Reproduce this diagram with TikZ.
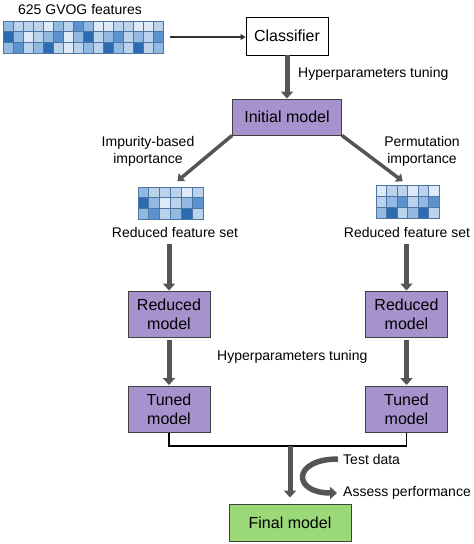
\documentclass[tikz,border=0pt]{standalone}
\usepackage{fontspec}
\setmainfont{Liberation Sans}
\usetikzlibrary{arrows.meta}

\definecolor{b1}{RGB}{222,234,247}
\definecolor{b2}{RGB}{186,210,236}
\definecolor{b3}{RGB}{145,185,225}
\definecolor{b4}{RGB}{92,147,207}
\definecolor{b5}{RGB}{44,106,178}
\definecolor{gridblue}{RGB}{78,118,163}
\definecolor{purplefill}{RGB}{167,146,205}
\definecolor{greenfill}{RGB}{154,216,120}
\definecolor{arrowgray}{RGB}{85,85,85}

% one row of a heat map: x, y, cell width, cell height, shades
\newcommand\heatrow[5]{\foreach \s [count=\i from 0] in {#5} {\draw[cell, fill=\s] ({#1+\i*#3},#2) rectangle ++(#3,#4);}}

\begin{document}
\begin{tikzpicture}[x=1pt, y=-1pt,
      cell/.style ={draw=gridblue, line width=0.8pt},
      heat/.style ={inner sep=0pt, minimum width=#1},
      model/.style ={draw=black!75, fill=purplefill, line width=0.9pt, align=center,
                     font=\fontsize{16}{19}\selectfont, minimum width=82, minimum height=46},
      note/.style ={inner sep=1pt, align=center, font=\fontsize{14}{17}\selectfont},
      bigarrow/.style ={draw=arrowgray, line width=5pt, -{Triangle[length=7pt,width=12pt]}},
      slantarrow/.style ={draw=arrowgray, line width=3.5pt, -{Triangle[length=6pt,width=10pt]}}]
   \useasboundingbox (0,0) rectangle (474,544);

   % feature matrix
   \node[note] (G) at (80,10) {625 GVOG features};
   \node[heat=160, minimum height=32] (H) at (83,37) {};
   \heatrow{3}{21}{10}{10.7}{b3,b2,b2,b2,b1,b3,b2,b4,b3,b1,b1,b2,b2,b1,b1,b2}
   \heatrow{3}{31.7}{10}{10.7}{b5,b3,b1,b2,b3,b4,b1,b3,b5,b2,b3,b4,b2,b3,b2,b4}
   \heatrow{3}{42.4}{10}{10.7}{b3,b4,b2,b3,b5,b2,b1,b2,b3,b2,b5,b3,b2,b5,b2,b3}

   \node[draw, line width=0.9pt, minimum width=82, minimum height=38,
         font=\fontsize{16}{19}\selectfont] (C) at (287,36) {Classifier};
   \node[model, minimum width=109, minimum height=36] (I) at (287,117) {Initial model};
   \node[note, anchor=west] (P0) at (297,74) {Hyperparameters tuning};

   \node[note] (L1) at (148,151) {Impurity-based\\importance};
   \node[note] (L2) at (422,151) {Permutation\\importance};

   % reduced feature sets
   \node[heat=65, minimum height=32] (HL) at (170.5,203) {};
   \heatrow{138}{187}{10.83}{10.7}{b3,b2,b2,b2,b1,b2}
   \heatrow{138}{197.7}{10.83}{10.7}{b5,b3,b1,b2,b3,b4}
   \heatrow{138}{208.4}{10.83}{10.7}{b3,b4,b2,b3,b5,b2}
   \node[heat=63, minimum height=33] (HR) at (407.5,201.5) {};
   \heatrow{376}{185}{10.5}{11}{b1,b2,b2,b1,b2,b1}
   \heatrow{376}{196}{10.5}{11}{b2,b3,b4,b2,b3,b4}
   \heatrow{376}{207}{10.5}{11}{b3,b5,b2,b3,b5,b2}

   \node[note] (FL) at (175,232) {Reduced feature set};
   \node[note] (FR) at (407,232) {Reduced feature set};

   \node[model] (R1) at (169,314) {Reduced\\model};
   \node[model] (R2) at (406.5,314) {Reduced\\model};
   \node[model] (T1) at (169,409.5) {Tuned\\model};
   \node[model] (T2) at (406.5,409.5) {Tuned\\model};
   \node[note, anchor=west] (P) at (216,357) {Hyperparameters tuning};

   \node[draw=black!75, fill=greenfill, line width=0.9pt, minimum width=122, minimum height=37,
         font=\fontsize{16}{19}\selectfont] (F) at (290,522.5) {Final model};
   \node[note, anchor=west] (TD) at (342,459) {Test data};
   \node[note, anchor=west] (AP) at (342,493) {Assess performance};
   \coordinate (B) at (290,446);

   \draw[line width=2pt, draw=black!80, -{Triangle[length=5pt,width=6pt]}, shorten <=7pt]
        (H.east) -- (H.east -| C.west);
   \draw[bigarrow] (C) -- (I);
   \draw[slantarrow, shorten >=9pt] (I.south west) -- (HL.north);
   \draw[slantarrow, shorten >=6pt] (I.south east) -- (HR.north);
   \draw[bigarrow, shorten <=6pt] (R1.north |- FL.south) -- (R1);
   \draw[bigarrow, shorten <=6pt] (R2.north |- FR.south) -- (R2);
   \draw[bigarrow, shorten <=3pt, shorten >=1pt] (R1) -- (T1);
   \draw[bigarrow, shorten <=3pt, shorten >=1pt] (R2) -- (T2);
   \draw[line width=1.2pt] (T1.south) -- (T1.south |- B) -| (T2.south);
   \draw[bigarrow, shorten >=6pt] (B) -- (F);
   \draw[bigarrow, line width=5.5pt, shorten <=4pt, shorten >=5pt]
        (TD.west) .. controls +(-50,0) and +(-50,0) .. (AP.west);
\end{tikzpicture}
\end{document}
